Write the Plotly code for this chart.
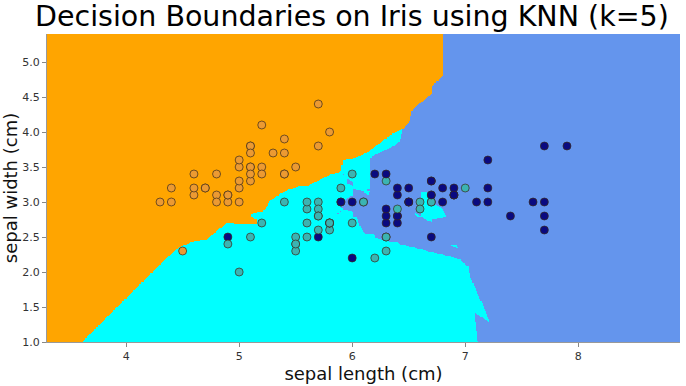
import numpy as np
import plotly.graph_objects as go

# Training points shown in the chart (in drawing order)
sepal_length = [6.4,5.4,5.2,6.1,6.4,5.2,5.7,6.0,5.9,5.8,
                6.8,4.7,6.9,5.0,5.4,5.0,6.5,6.7,6.0,6.7,
                5.6,7.7,6.3,5.5,6.3,6.3,4.9,6.3,7.0,6.5,
                6.0,4.8,5.8,5.6,5.6,5.5,6.1,7.2,5.3,4.3,
                6.4,5.7,5.4,5.7,6.9,4.6,5.9,5.1,4.6,6.2,
                7.2,5.7,4.8,7.1,6.9,6.5,6.4,5.1,4.8,6.5,
                6.7,4.5,6.2,4.9,5.7,6.9,4.4,5.0,7.2,5.1,
                4.4,5.4,5.5,6.8,7.6,5.1,4.9,5.2,5.7,6.6,
                5.0,5.1,6.4,5.4,7.7,4.9,7.9,6.7,5.2,6.0,
                5.8,7.7,5.1,4.7,7.4,5.0,6.3,5.7,5.8,5.7,
                6.4,6.7,6.3,6.7,5.0,5.5,6.7,5.8,5.1,6.6,
                5.6,5.9,6.3,5.5,5.1,4.9,6.3,5.8,7.7,4.6]
sepal_width = [3.1,3.0,3.5,3.0,2.8,2.7,3.8,2.7,3.0,2.6,
               3.0,3.2,3.1,3.5,3.7,2.0,3.0,3.3,2.2,2.5,
               2.5,3.0,3.3,2.4,2.7,2.8,2.5,2.5,3.2,3.0,
               3.4,3.1,2.7,2.7,2.9,2.5,3.0,3.2,3.7,3.0,
               2.7,3.0,3.4,4.4,3.1,3.1,3.0,2.5,3.4,2.2,
               3.6,2.9,3.0,3.0,3.2,3.0,2.8,3.8,3.4,3.2,
               3.3,2.3,3.4,3.0,2.5,3.1,3.2,3.6,3.0,3.5,
               3.0,3.9,2.3,3.2,3.0,3.5,3.1,3.4,2.8,3.0,
               3.2,3.3,2.9,3.4,2.6,2.4,3.8,3.1,4.1,3.0,
               4.0,2.8,3.8,3.2,2.8,3.3,3.4,2.8,2.7,2.6,
               3.2,3.0,2.5,3.0,3.0,2.4,3.1,2.7,3.4,2.9,
               3.0,3.2,2.3,3.5,3.7,3.1,2.9,2.7,3.8,3.2]
species = [2,1,0,2,2,1,0,1,1,1,
           2,0,2,0,0,1,2,2,2,2,
           1,2,1,1,2,2,2,2,1,2,
           1,0,2,1,1,1,1,2,0,0,
           2,1,0,0,1,0,2,1,0,1,
           2,1,0,2,2,2,2,0,0,2,
           2,0,2,0,2,2,0,0,2,0,
           0,0,1,2,2,0,0,0,1,1,
           0,0,1,0,2,1,2,1,0,2,
           0,2,0,0,2,0,2,1,1,1,
           2,2,1,1,0,1,2,2,0,1,
           1,1,1,0,0,0,2,1,2,0]

class_names = ["setosa", "versicolor", "virginica"]
region_colors = ["#FFA500", "#00FFFF", "#6495ED"]
point_colors = ["#EC9A32", "#3BB4B2", "#0A0A80"]
k_neighbors = 5
mesh_step = 0.01

X = np.column_stack([sepal_length, sepal_width])
labels = np.array(species)

x_min, x_max = X[:, 0].min() - 1, X[:, 0].max() + 1
y_min, y_max = X[:, 1].min() - 1, X[:, 1].max() + 1
xx = np.arange(x_min, x_max + 1e-9, mesh_step)
yy = np.arange(y_min, y_max + 1e-9, mesh_step)
gx, gy = np.meshgrid(xx, yy)
grid = np.column_stack([gx.ravel(), gy.ravel()])

# equal-distance neighbours: later training samples taken first
Xr = X[::-1]
labels_r = labels[::-1]
pred = np.empty(len(grid), dtype=int)
chunk = 20000
for s in range(0, len(grid), chunk):
    g = grid[s:s + chunk]
    d2 = (g[:, 0:1] - Xr[None, :, 0]) ** 2 + (g[:, 1:2] - Xr[None, :, 1]) ** 2
    nn = np.argsort(d2, axis=1, kind="stable")[:, :k_neighbors]
    votes = labels_r[nn]
    counts = np.stack([(votes == c).sum(axis=1) for c in range(3)], axis=1)
    pred[s:s + chunk] = counts.argmax(axis=1)
Z = pred.reshape(gx.shape)

colorscale = [[0, region_colors[0]], [1/3, region_colors[0]],
              [1/3, region_colors[1]], [2/3, region_colors[1]],
              [2/3, region_colors[2]], [1, region_colors[2]]]

fig = go.Figure()
fig.add_trace(go.Heatmap(
    x=xx, y=yy, z=Z, zmin=-0.5, zmax=2.5, zsmooth=False,
    colorscale=colorscale, showscale=False, hoverinfo="skip",
))
fig.add_trace(go.Scatter(
    x=sepal_length, y=sepal_width, mode="markers",
    text=[class_names[c] for c in species],
    marker=dict(color=[point_colors[c] for c in species], size=8,
                line=dict(color="#3a2a1a", width=0.7)),
))

fig.update_layout(
    width=686, height=386,
    margin=dict(l=47, r=6, t=34, b=41),
    paper_bgcolor="white", plot_bgcolor="white",
    showlegend=False,
    font=dict(family="DejaVu Sans", color="#333"),
    title=dict(text="Decision Boundaries on Iris using KNN (k=5)",
               font=dict(size=28.5, color="black"),
               x=0.513, xanchor="center", y=0.985, yanchor="top", xref="container"),
    xaxis=dict(range=[x_min, x_max], tickvals=[4, 5, 6, 7, 8],
               title=dict(text="sepal length (cm)", font=dict(size=18, color="#111"), standoff=4),
               tickfont=dict(size=11), ticks="outside", ticklen=4, tickcolor="#888",
               showgrid=False, zeroline=False, showline=True, linecolor="#999", linewidth=1),
    yaxis=dict(range=[y_min, y_max], tickvals=[1.0, 1.5, 2.0, 2.5, 3.0, 3.5, 4.0, 4.5, 5.0],
               tickformat=".1f",
               title=dict(text="sepal width (cm)", font=dict(size=18, color="#111"), standoff=0),
               tickfont=dict(size=11), ticks="outside", ticklen=4, tickcolor="#888",
               showgrid=False, zeroline=False, showline=True, linecolor="#999", linewidth=1),
)

fig.write_html("out.html")
